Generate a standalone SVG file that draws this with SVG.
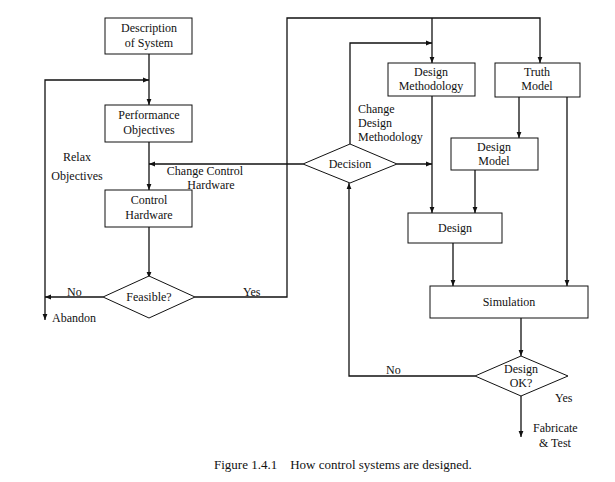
<svg xmlns="http://www.w3.org/2000/svg" width="615" height="482" viewBox="0 0 615 482">
<style>
text{font-family:"Liberation Serif","Times New Roman",serif;font-size:12px;fill:#111}
.c{text-anchor:middle}
.n rect,.n polygon{fill:#fff;stroke:#111;stroke-width:1}
#connectors path{fill:none;stroke:#111;stroke-width:1.3}
</style>
<defs><marker id="a" viewBox="0 0 10 10" refX="10" refY="5" markerWidth="6" markerHeight="7" orient="auto" markerUnits="userSpaceOnUse"><path d="M0,1 L10,5 L0,9 z" fill="#111"/></marker></defs>
<rect width="615" height="482" fill="#fff"/>
<g id="connectors">
<path d="M149,54 V105" marker-end="url(#a)"/>
<path d="M45,318 V80 H149" marker-end="url(#a)"/>
<path d="M45,318 V320" marker-end="url(#a)"/>
<path d="M149,142 V190" marker-end="url(#a)"/>
<path d="M149,227 V278" marker-end="url(#a)"/>
<path d="M103,297 H45" marker-end="url(#a)"/>
<path d="M195,297 H287 V18 H540 V63" marker-end="url(#a)"/>
<path d="M432,18 V63" marker-end="url(#a)"/>
<path d="M303,164 H149" marker-end="url(#a)"/>
<path d="M350,144 V43 H432" marker-end="url(#a)"/>
<path d="M397,164 H432" marker-end="url(#a)"/>
<path d="M432,96 V213" marker-end="url(#a)"/>
<path d="M519,97 V138" marker-end="url(#a)"/>
<path d="M475,170 V213" marker-end="url(#a)"/>
<path d="M567,97 V286" marker-end="url(#a)"/>
<path d="M453,243 V286" marker-end="url(#a)"/>
<path d="M521,318 V356" marker-end="url(#a)"/>
<path d="M475,376 H349 V183" marker-end="url(#a)"/>
<path d="M521,396 V437" marker-end="url(#a)"/>
</g>
<g id="desc" class="n"><rect x="105" y="18" width="87" height="36"/><text class="c" x="149" y="32">Description</text><text class="c" x="149" y="47">of System</text></g>
<g id="perf" class="n"><rect x="105" y="105" width="87" height="37"/><text class="c" x="149" y="119">Performance</text><text class="c" x="149" y="134">Objectives</text></g>
<g id="hw" class="n"><rect x="105" y="190" width="87" height="37"/><text class="c" x="149" y="204">Control</text><text class="c" x="149" y="219">Hardware</text></g>
<g id="feasible" class="n"><polygon points="103,297 149,276 195,297 149,318"/><text class="c" x="149" y="301">Feasible?</text></g>
<g id="decision" class="n"><polygon points="303,164 350,144 397,164 350,183"/><text class="c" x="350" y="168">Decision</text></g>
<g id="method" class="n"><rect x="388" y="63" width="87" height="33"/><text class="c" x="431" y="76">Design</text><text class="c" x="431" y="90">Methodology</text></g>
<g id="truth" class="n"><rect x="495" y="63" width="85" height="34"/><text class="c" x="537" y="76">Truth</text><text class="c" x="537" y="90">Model</text></g>
<g id="dmodel" class="n"><rect x="451" y="138" width="87" height="32"/><text class="c" x="494" y="151">Design</text><text class="c" x="494" y="165">Model</text></g>
<g id="design" class="n"><rect x="408" y="213" width="94" height="30"/><text class="c" x="455" y="232">Design</text></g>
<g id="sim" class="n"><rect x="430" y="286" width="158" height="32"/><text class="c" x="509" y="306">Simulation</text></g>
<g id="ok" class="n"><polygon points="475,376 521,356 568,376 521,396"/><text class="c" x="521" y="373">Design</text><text class="c" x="521" y="387">OK?</text></g>
<g id="labels">
<text class="c" x="77" y="161">Relax</text><text class="c" x="77" y="180">Objectives</text>
<text class="c" x="205" y="175">Change Control</text><text class="c" x="211" y="189">Hardware</text>
<text x="67" y="296">No</text><text x="52" y="322">Abandon</text><text x="243" y="296">Yes</text>
<text x="358" y="113">Change</text><text x="358" y="127">Design</text><text x="358" y="141">Methodology</text>
<text x="386" y="374">No</text><text x="555" y="402">Yes</text>
<text x="533" y="432">Fabricate</text><text x="539" y="447">&amp; Test</text>
<text x="214" y="469" style="font-size:13px;white-space:pre">Figure 1.4.1    How control systems are designed.</text>
</g>
</svg>
